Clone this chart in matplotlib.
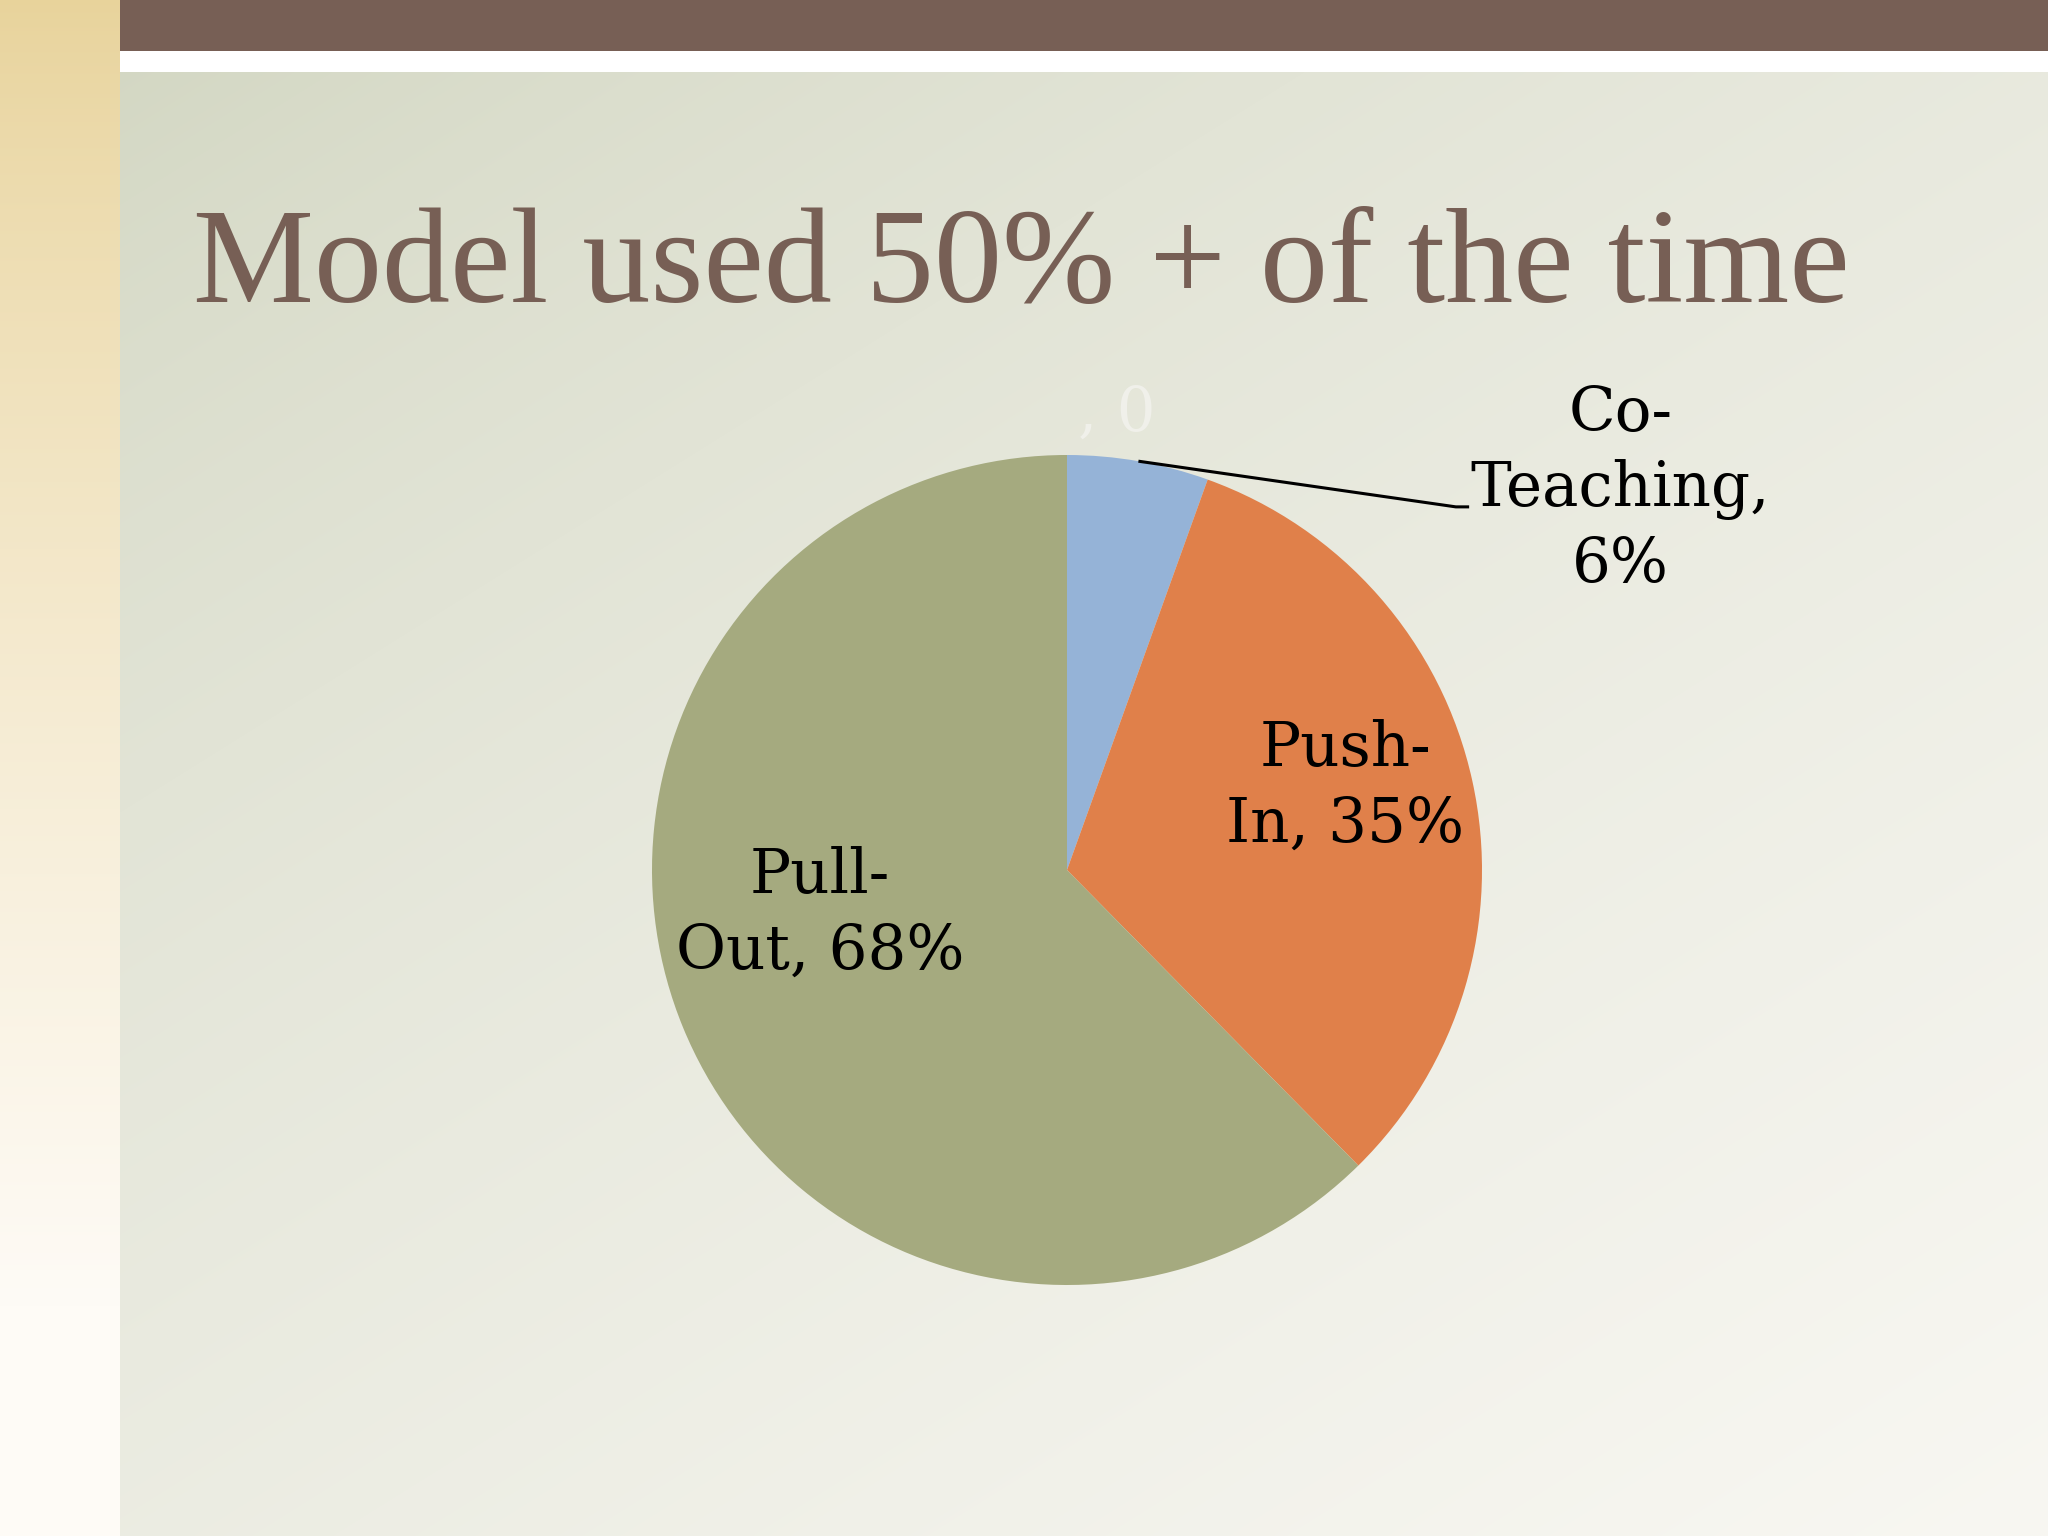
import numpy as np
import matplotlib.pyplot as plt

# chart data
categories = ["Co-Teaching", "Push-In", "Pull-Out", ""]
values = [6, 35, 68, 0]
label_text = ["Co-\nTeaching,\n6%", "Push-\nIn, 35%", "Pull-\nOut, 68%", ", 0"]
colors = ["#95B3D7", "#E0804A", "#A5AA7F", "#FFFFFF"]

title = "Model used 50% + of the time"

W, H = 2048, 1536
fig = plt.figure(figsize=(W / 100, H / 100), dpi=100)

# slide background
bg = fig.add_axes([0, 0, 1, 1])
bg.set_axis_off()
yy, xx = np.mgrid[0:H, 0:W]
xn = xx / W
yn = yy / H
t = np.clip(((xn + 1.2 * yn) / 2.2), 0, 1) ** 0.6
c0 = np.array([204, 209, 186]) / 255
c1 = np.array([248, 247, 242]) / 255
img = c0[None, None, :] * (1 - t[..., None]) + c1[None, None, :] * t[..., None]
# left gold strip
ts = np.clip(yn / 0.85, 0, 1) ** 0.8
g0 = np.array([232, 211, 155]) / 255
g1 = np.array([254, 251, 246]) / 255
strip = g0[None, None, :] * (1 - ts[..., None]) + g1[None, None, :] * ts[..., None]
img[:, :120] = strip[:, :120]
# top bar
img[:51, 120:] = np.array([119, 95, 85]) / 255
img[51:72, 120:] = 1.0
bg.imshow(img, extent=[0, W, H, 0], aspect='auto', interpolation='bilinear')
bg.set_xlim(0, W)
bg.set_ylim(H, 0)

fig.text(193 / W, 1 - 302 / H, title, fontsize=98, family='Liberation Serif',
         color='#775F55', va='baseline', ha='left')

# pie
cx, cy, r = 1067, 870, 415
ax = fig.add_axes([(cx - r) / W, (H - cy - r) / H, 2 * r / W, 2 * r / H])
wedges, _ = ax.pie(values, colors=colors, startangle=90, counterclock=False,
                   radius=1, wedgeprops=dict(linewidth=0))
ax.set_xlim(-1, 1)
ax.set_ylim(-1, 1)
ax.set_aspect('equal')
ax.set_axis_off()

# label positions (best fit)
label_pos = [(1.333, 0.916), (0.67, 0.20), (-0.595, -0.106), (0.12, 1.10)]
label_color = ['black', 'black', 'black', '#F0F0EA']
for txt, (lx, ly), lc in zip(label_text, label_pos, label_color):
    ax.text(lx, ly, txt, ha='center', va='center', fontsize=44,
            family='DejaVu Serif', color=lc, linespacing=1.32, clip_on=False)

# leader line for the small slice
w = wedges[0]
mid = np.deg2rad((w.theta1 + w.theta2) / 2)
sx, sy = np.cos(mid), np.sin(mid)
ax.plot([sx, 0.937, 0.969], [sy, 0.875, 0.875], color='black', lw=2.2,
        clip_on=False, solid_capstyle='butt')

fig.savefig("out.png", dpi=100)
